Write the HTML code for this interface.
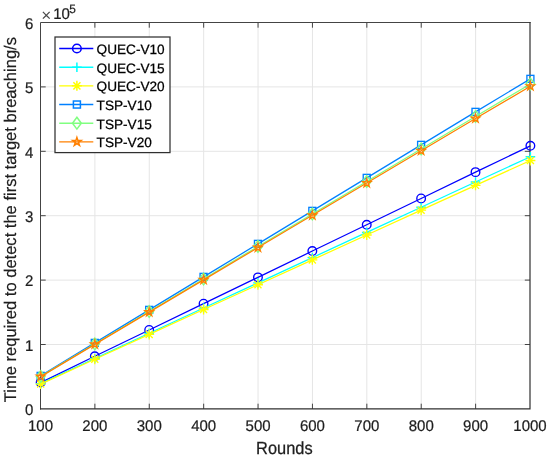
<!DOCTYPE html>
<html><head><meta charset="utf-8"><title>Plot</title>
<style>html,body{margin:0;padding:0;background:#fff;}body{width:550px;height:458px;overflow:hidden;}svg{display:block;}</style>
</head><body>
<svg width="550" height="458" viewBox="0 0 550 458" font-family="'Liberation Sans', Arial, sans-serif" fill="#1e1e1e" text-rendering="geometricPrecision">
<rect width="550" height="458" fill="#fff"/>
<path d="M94.89 22.5V408.9M149.28 22.5V408.9M203.67 22.5V408.9M258.06 22.5V408.9M312.44 22.5V408.9M366.83 22.5V408.9M421.22 22.5V408.9M475.61 22.5V408.9M40.5 344.50H530.0M40.5 280.10H530.0M40.5 215.70H530.0M40.5 151.30H530.0M40.5 86.90H530.0" stroke="#e5e5e5" stroke-width="1" fill="none"/>
<path d="M94.89 408.9v-5.2M94.89 22.5v5.2M149.28 408.9v-5.2M149.28 22.5v5.2M203.67 408.9v-5.2M203.67 22.5v5.2M258.06 408.9v-5.2M258.06 22.5v5.2M312.44 408.9v-5.2M312.44 22.5v5.2M366.83 408.9v-5.2M366.83 22.5v5.2M421.22 408.9v-5.2M421.22 22.5v5.2M475.61 408.9v-5.2M475.61 22.5v5.2M40.5 344.50h5.2M530.0 344.50h-5.2M40.5 280.10h5.2M530.0 280.10h-5.2M40.5 215.70h5.2M530.0 215.70h-5.2M40.5 151.30h5.2M530.0 151.30h-5.2M40.5 86.90h5.2M530.0 86.90h-5.2" stroke="#444444" stroke-width="1" fill="none"/>
<path d="M40.5 409.5V22.5H530.6" stroke="#444444" stroke-width="1" fill="none"/>
<path d="M40.0 408.9H530.0V22.0" stroke="#303030" stroke-width="1.2" fill="none" stroke-linejoin="miter"/>
<polyline points="40.65,382.59 94.79,356.29 149.18,329.98 203.57,303.67 257.96,277.36 312.34,251.06 366.73,224.75 421.12,198.44 475.51,172.13 530.40,145.83" stroke="#0000ff" stroke-width="1.25" fill="none"/>
<circle cx="40.65" cy="382.59" r="4.3" stroke="#0000ff" stroke-width="1.35" fill="none"/>
<circle cx="94.79" cy="356.29" r="4.3" stroke="#0000ff" stroke-width="1.35" fill="none"/>
<circle cx="149.18" cy="329.98" r="4.3" stroke="#0000ff" stroke-width="1.35" fill="none"/>
<circle cx="203.57" cy="303.67" r="4.3" stroke="#0000ff" stroke-width="1.35" fill="none"/>
<circle cx="257.96" cy="277.36" r="4.3" stroke="#0000ff" stroke-width="1.35" fill="none"/>
<circle cx="312.34" cy="251.06" r="4.3" stroke="#0000ff" stroke-width="1.35" fill="none"/>
<circle cx="366.73" cy="224.75" r="4.3" stroke="#0000ff" stroke-width="1.35" fill="none"/>
<circle cx="421.12" cy="198.44" r="4.3" stroke="#0000ff" stroke-width="1.35" fill="none"/>
<circle cx="475.51" cy="172.13" r="4.3" stroke="#0000ff" stroke-width="1.35" fill="none"/>
<circle cx="530.40" cy="145.83" r="4.3" stroke="#0000ff" stroke-width="1.35" fill="none"/>
<polyline points="40.65,383.69 94.79,358.47 149.18,333.26 203.57,308.05 257.96,282.84 312.34,257.62 366.73,232.41 421.12,207.20 475.51,181.99 530.40,156.77" stroke="#00ffff" stroke-width="1.25" fill="none"/>
<path d="M35.85 383.69H45.45M40.65 378.89V388.49" stroke="#00ffff" stroke-width="1.35" fill="none"/>
<path d="M89.99 358.47H99.59M94.79 353.67V363.27" stroke="#00ffff" stroke-width="1.35" fill="none"/>
<path d="M144.38 333.26H153.98M149.18 328.46V338.06" stroke="#00ffff" stroke-width="1.35" fill="none"/>
<path d="M198.77 308.05H208.37M203.57 303.25V312.85" stroke="#00ffff" stroke-width="1.35" fill="none"/>
<path d="M253.16 282.84H262.76M257.96 278.04V287.64" stroke="#00ffff" stroke-width="1.35" fill="none"/>
<path d="M307.54 257.62H317.14M312.34 252.82V262.42" stroke="#00ffff" stroke-width="1.35" fill="none"/>
<path d="M361.93 232.41H371.53M366.73 227.61V237.21" stroke="#00ffff" stroke-width="1.35" fill="none"/>
<path d="M416.32 207.20H425.92M421.12 202.40V212.00" stroke="#00ffff" stroke-width="1.35" fill="none"/>
<path d="M470.71 181.99H480.31M475.51 177.19V186.79" stroke="#00ffff" stroke-width="1.35" fill="none"/>
<path d="M525.60 156.77H535.20M530.40 151.97V161.57" stroke="#00ffff" stroke-width="1.35" fill="none"/>
<polyline points="40.65,384.06 94.79,359.22 149.18,334.38 203.57,309.54 257.96,284.70 312.34,259.87 366.73,235.03 421.12,210.19 475.51,185.35 530.40,160.51" stroke="#ffff00" stroke-width="1.25" fill="none"/>
<path d="M35.65 384.06H45.65M40.65 379.06V389.06M37.11 380.53L44.19 387.60M37.11 387.60L44.19 380.53" stroke="#ffff00" stroke-width="1.35" fill="none"/>
<path d="M89.79 359.22H99.79M94.79 354.22V364.22M91.25 355.69L98.32 362.76M91.25 362.76L98.32 355.69" stroke="#ffff00" stroke-width="1.35" fill="none"/>
<path d="M144.18 334.38H154.18M149.18 329.38V339.38M145.64 330.85L152.71 337.92M145.64 337.92L152.71 330.85" stroke="#ffff00" stroke-width="1.35" fill="none"/>
<path d="M198.57 309.54H208.57M203.57 304.54V314.54M200.03 306.01L207.10 313.08M200.03 313.08L207.10 306.01" stroke="#ffff00" stroke-width="1.35" fill="none"/>
<path d="M252.96 284.70H262.96M257.96 279.70V289.70M254.42 281.17L261.49 288.24M254.42 288.24L261.49 281.17" stroke="#ffff00" stroke-width="1.35" fill="none"/>
<path d="M307.34 259.87H317.34M312.34 254.87V264.87M308.81 256.33L315.88 263.40M308.81 263.40L315.88 256.33" stroke="#ffff00" stroke-width="1.35" fill="none"/>
<path d="M361.73 235.03H371.73M366.73 230.03V240.03M363.20 231.49L370.27 238.56M363.20 238.56L370.27 231.49" stroke="#ffff00" stroke-width="1.35" fill="none"/>
<path d="M416.12 210.19H426.12M421.12 205.19V215.19M417.59 206.65L424.66 213.72M417.59 213.72L424.66 206.65" stroke="#ffff00" stroke-width="1.35" fill="none"/>
<path d="M470.51 185.35H480.51M475.51 180.35V190.35M471.98 181.81L479.05 188.88M471.98 188.88L479.05 181.81" stroke="#ffff00" stroke-width="1.35" fill="none"/>
<path d="M525.40 160.51H535.40M530.40 155.51V165.51M526.86 156.97L533.94 164.04M526.86 164.04L533.94 156.97" stroke="#ffff00" stroke-width="1.35" fill="none"/>
<polyline points="40.65,375.89 94.79,342.89 149.18,309.88 203.57,276.88 257.96,243.88 312.34,210.87 366.73,177.87 421.12,144.86 475.51,111.86 530.40,78.85" stroke="#0080ff" stroke-width="1.25" fill="none"/>
<rect x="37.15" y="372.39" width="7.0" height="7.0" stroke="#0080ff" stroke-width="1.35" fill="none"/>
<rect x="91.29" y="339.39" width="7.0" height="7.0" stroke="#0080ff" stroke-width="1.35" fill="none"/>
<rect x="145.68" y="306.38" width="7.0" height="7.0" stroke="#0080ff" stroke-width="1.35" fill="none"/>
<rect x="200.07" y="273.38" width="7.0" height="7.0" stroke="#0080ff" stroke-width="1.35" fill="none"/>
<rect x="254.46" y="240.38" width="7.0" height="7.0" stroke="#0080ff" stroke-width="1.35" fill="none"/>
<rect x="308.84" y="207.37" width="7.0" height="7.0" stroke="#0080ff" stroke-width="1.35" fill="none"/>
<rect x="363.23" y="174.37" width="7.0" height="7.0" stroke="#0080ff" stroke-width="1.35" fill="none"/>
<rect x="417.62" y="141.36" width="7.0" height="7.0" stroke="#0080ff" stroke-width="1.35" fill="none"/>
<rect x="472.01" y="108.36" width="7.0" height="7.0" stroke="#0080ff" stroke-width="1.35" fill="none"/>
<rect x="526.90" y="75.35" width="7.0" height="7.0" stroke="#0080ff" stroke-width="1.35" fill="none"/>
<polyline points="40.65,376.41 94.79,343.92 149.18,311.43 203.57,278.94 257.96,246.45 312.34,213.96 366.73,181.47 421.12,148.98 475.51,116.49 530.40,84.00" stroke="#80ff80" stroke-width="1.25" fill="none"/>
<path d="M40.65 370.51L45.05 376.41L40.65 382.31L36.25 376.41Z" stroke="#80ff80" stroke-width="1.35" fill="none"/>
<path d="M94.79 338.02L99.19 343.92L94.79 349.82L90.39 343.92Z" stroke="#80ff80" stroke-width="1.35" fill="none"/>
<path d="M149.18 305.53L153.58 311.43L149.18 317.33L144.78 311.43Z" stroke="#80ff80" stroke-width="1.35" fill="none"/>
<path d="M203.57 273.04L207.97 278.94L203.57 284.84L199.17 278.94Z" stroke="#80ff80" stroke-width="1.35" fill="none"/>
<path d="M257.96 240.55L262.36 246.45L257.96 252.35L253.56 246.45Z" stroke="#80ff80" stroke-width="1.35" fill="none"/>
<path d="M312.34 208.06L316.74 213.96L312.34 219.86L307.94 213.96Z" stroke="#80ff80" stroke-width="1.35" fill="none"/>
<path d="M366.73 175.57L371.13 181.47L366.73 187.37L362.33 181.47Z" stroke="#80ff80" stroke-width="1.35" fill="none"/>
<path d="M421.12 143.08L425.52 148.98L421.12 154.88L416.72 148.98Z" stroke="#80ff80" stroke-width="1.35" fill="none"/>
<path d="M475.51 110.59L479.91 116.49L475.51 122.39L471.11 116.49Z" stroke="#80ff80" stroke-width="1.35" fill="none"/>
<path d="M530.40 78.10L534.80 84.00L530.40 89.90L526.00 84.00Z" stroke="#80ff80" stroke-width="1.35" fill="none"/>
<polyline points="40.65,376.64 94.79,344.37 149.18,312.11 203.57,279.84 257.96,247.58 312.34,215.31 366.73,183.05 421.12,150.78 475.51,118.52 530.40,86.26" stroke="#ff8000" stroke-width="1.25" fill="none"/>
<polygon points="40.65,372.24 41.64,375.28 44.83,375.28 42.25,377.15 43.24,380.20 40.65,378.32 38.06,380.20 39.05,377.15 36.47,375.28 39.66,375.28" stroke="#ff8000" stroke-width="1.35" fill="none" stroke-linejoin="miter"/>
<polygon points="94.79,339.97 95.78,343.01 98.97,343.01 96.39,344.89 97.38,347.93 94.79,346.05 92.20,347.93 93.19,344.89 90.60,343.01 93.80,343.01" stroke="#ff8000" stroke-width="1.35" fill="none" stroke-linejoin="miter"/>
<polygon points="149.18,307.71 150.17,310.75 153.36,310.75 150.78,312.63 151.76,315.67 149.18,313.79 146.59,315.67 147.58,312.63 144.99,310.75 148.19,310.75" stroke="#ff8000" stroke-width="1.35" fill="none" stroke-linejoin="miter"/>
<polygon points="203.57,275.44 204.55,278.48 207.75,278.48 205.17,280.36 206.15,283.40 203.57,281.52 200.98,283.40 201.97,280.36 199.38,278.48 202.58,278.48" stroke="#ff8000" stroke-width="1.35" fill="none" stroke-linejoin="miter"/>
<polygon points="257.96,243.18 258.94,246.22 262.14,246.22 259.55,248.10 260.54,251.14 257.96,249.26 255.37,251.14 256.36,248.10 253.77,246.22 256.97,246.22" stroke="#ff8000" stroke-width="1.35" fill="none" stroke-linejoin="miter"/>
<polygon points="312.34,210.91 313.33,213.95 316.53,213.95 313.94,215.83 314.93,218.87 312.34,216.99 309.76,218.87 310.75,215.83 308.16,213.95 311.36,213.95" stroke="#ff8000" stroke-width="1.35" fill="none" stroke-linejoin="miter"/>
<polygon points="366.73,178.65 367.72,181.69 370.92,181.69 368.33,183.57 369.32,186.61 366.73,184.73 364.15,186.61 365.13,183.57 362.55,181.69 365.75,181.69" stroke="#ff8000" stroke-width="1.35" fill="none" stroke-linejoin="miter"/>
<polygon points="421.12,146.38 422.11,149.43 425.31,149.43 422.72,151.30 423.71,154.34 421.12,152.47 418.54,154.34 419.52,151.30 416.94,149.43 420.13,149.43" stroke="#ff8000" stroke-width="1.35" fill="none" stroke-linejoin="miter"/>
<polygon points="475.51,114.12 476.50,117.16 479.70,117.16 477.11,119.04 478.10,122.08 475.51,120.20 472.92,122.08 473.91,119.04 471.33,117.16 474.52,117.16" stroke="#ff8000" stroke-width="1.35" fill="none" stroke-linejoin="miter"/>
<polygon points="530.40,81.86 531.39,84.90 534.58,84.90 532.00,86.78 532.99,89.82 530.40,87.94 527.81,89.82 528.80,86.78 526.22,84.90 529.41,84.90" stroke="#ff8000" stroke-width="1.35" fill="none" stroke-linejoin="miter"/>
<text transform="translate(40.50 430.70) scale(1 1.03)" font-size="15.0" text-anchor="middle" fill="#1e1e1e" stroke="#1e1e1e" stroke-width="0.22">100</text>
<text transform="translate(94.89 430.70) scale(1 1.03)" font-size="15.0" text-anchor="middle" fill="#1e1e1e" stroke="#1e1e1e" stroke-width="0.22">200</text>
<text transform="translate(149.28 430.70) scale(1 1.03)" font-size="15.0" text-anchor="middle" fill="#1e1e1e" stroke="#1e1e1e" stroke-width="0.22">300</text>
<text transform="translate(203.67 430.70) scale(1 1.03)" font-size="15.0" text-anchor="middle" fill="#1e1e1e" stroke="#1e1e1e" stroke-width="0.22">400</text>
<text transform="translate(258.06 430.70) scale(1 1.03)" font-size="15.0" text-anchor="middle" fill="#1e1e1e" stroke="#1e1e1e" stroke-width="0.22">500</text>
<text transform="translate(312.44 430.70) scale(1 1.03)" font-size="15.0" text-anchor="middle" fill="#1e1e1e" stroke="#1e1e1e" stroke-width="0.22">600</text>
<text transform="translate(366.83 430.70) scale(1 1.03)" font-size="15.0" text-anchor="middle" fill="#1e1e1e" stroke="#1e1e1e" stroke-width="0.22">700</text>
<text transform="translate(421.22 430.70) scale(1 1.03)" font-size="15.0" text-anchor="middle" fill="#1e1e1e" stroke="#1e1e1e" stroke-width="0.22">800</text>
<text transform="translate(475.61 430.70) scale(1 1.03)" font-size="15.0" text-anchor="middle" fill="#1e1e1e" stroke="#1e1e1e" stroke-width="0.22">900</text>
<text transform="translate(530.00 430.70) scale(1 1.03)" font-size="15.0" text-anchor="middle" fill="#1e1e1e" stroke="#1e1e1e" stroke-width="0.22">1000</text>
<text transform="translate(33.30 415.25) scale(1 1.03)" font-size="15.0" text-anchor="end" fill="#1e1e1e" stroke="#1e1e1e" stroke-width="0.22">0</text>
<text transform="translate(33.30 350.85) scale(1 1.03)" font-size="15.0" text-anchor="end" fill="#1e1e1e" stroke="#1e1e1e" stroke-width="0.22">1</text>
<text transform="translate(33.30 286.45) scale(1 1.03)" font-size="15.0" text-anchor="end" fill="#1e1e1e" stroke="#1e1e1e" stroke-width="0.22">2</text>
<text transform="translate(33.30 222.05) scale(1 1.03)" font-size="15.0" text-anchor="end" fill="#1e1e1e" stroke="#1e1e1e" stroke-width="0.22">3</text>
<text transform="translate(33.30 157.65) scale(1 1.03)" font-size="15.0" text-anchor="end" fill="#1e1e1e" stroke="#1e1e1e" stroke-width="0.22">4</text>
<text transform="translate(33.30 93.25) scale(1 1.03)" font-size="15.0" text-anchor="end" fill="#1e1e1e" stroke="#1e1e1e" stroke-width="0.22">5</text>
<text transform="translate(33.30 28.85) scale(1 1.03)" font-size="15.0" text-anchor="end" fill="#1e1e1e" stroke="#1e1e1e" stroke-width="0.22">6</text>
<text x="41.2" y="20.6" font-size="17.2" fill="#4a4a4a">×</text>
<text transform="translate(53.20 18.70) scale(1 1.03)" font-size="15.0" text-anchor="start" fill="#1e1e1e" stroke="#1e1e1e" stroke-width="0.22">10</text>
<text transform="translate(69.30 12.50) scale(1 1.03)" font-size="11.8" text-anchor="start" fill="#1e1e1e" stroke="#1e1e1e" stroke-width="0.22">5</text>
<text transform="translate(284.35 453.70) scale(1 1.07)" font-size="16.4" text-anchor="middle" fill="#1e1e1e" stroke="#1e1e1e" stroke-width="0.25">Rounds</text>
<text transform="translate(16.10 219.60) rotate(-90) scale(1 1.02)" font-size="16.55" text-anchor="middle" fill="#1e1e1e" stroke="#1e1e1e" stroke-width="0.18">Time required to detect the first target breaching/s</text>
<rect x="55.0" y="37.0" width="115.00" height="115.60" fill="#fff" stroke="#303030" stroke-width="1.25"/>
<path d="M59.2 48.55H93.3" stroke="#0000ff" stroke-width="1.45" fill="none"/>
<circle cx="76.90" cy="48.55" r="4.3" stroke="#0000ff" stroke-width="1.5" fill="none"/>
<text x="96.6" y="53.80" font-size="13.62" fill="#000" stroke="#000" stroke-width="0.25">QUEC-V10</text>
<path d="M59.2 67.21H93.3" stroke="#00ffff" stroke-width="1.45" fill="none"/>
<path d="M72.10 67.21H81.70M76.90 62.41V72.01" stroke="#00ffff" stroke-width="1.5" fill="none"/>
<text x="96.6" y="72.50" font-size="13.62" fill="#000" stroke="#000" stroke-width="0.25">QUEC-V15</text>
<path d="M59.2 85.87H93.3" stroke="#ffff00" stroke-width="1.45" fill="none"/>
<path d="M71.90 85.87H81.90M76.90 80.87V90.87M73.36 82.33L80.44 89.41M73.36 89.41L80.44 82.33" stroke="#ffff00" stroke-width="1.5" fill="none"/>
<text x="96.6" y="91.20" font-size="13.62" fill="#000" stroke="#000" stroke-width="0.25">QUEC-V20</text>
<path d="M59.2 104.53H93.3" stroke="#0080ff" stroke-width="1.45" fill="none"/>
<rect x="73.40" y="101.03" width="7.0" height="7.0" stroke="#0080ff" stroke-width="1.5" fill="none"/>
<text x="96.6" y="109.90" font-size="13.62" fill="#000" stroke="#000" stroke-width="0.25">TSP-V10</text>
<path d="M59.2 123.19H93.3" stroke="#80ff80" stroke-width="1.45" fill="none"/>
<path d="M76.90 117.29L81.30 123.19L76.90 129.09L72.50 123.19Z" stroke="#80ff80" stroke-width="1.5" fill="none"/>
<text x="96.6" y="128.60" font-size="13.62" fill="#000" stroke="#000" stroke-width="0.25">TSP-V15</text>
<path d="M59.2 141.85H93.3" stroke="#ff8000" stroke-width="1.45" fill="none"/>
<polygon points="76.90,137.45 77.89,140.49 81.08,140.49 78.50,142.37 79.49,145.41 76.90,143.53 74.31,145.41 75.30,142.37 72.72,140.49 75.91,140.49" stroke="#ff8000" stroke-width="1.5" fill="none" stroke-linejoin="miter"/>
<text x="96.6" y="147.30" font-size="13.62" fill="#000" stroke="#000" stroke-width="0.25">TSP-V20</text>
</svg>
</body></html>
